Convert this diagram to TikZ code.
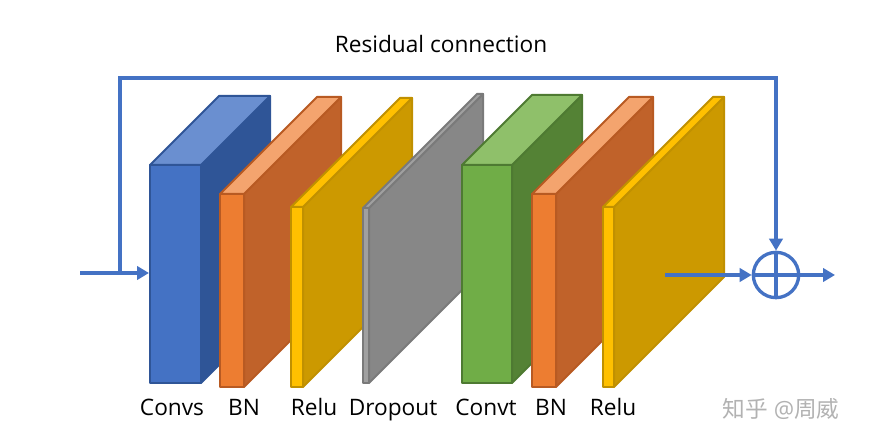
\documentclass[tikz,border=0pt]{standalone}
\usepackage{fontspec}
\setmainfont{Open Sans}
\newfontfamily\cjk{Noto Sans CJK SC}
\usetikzlibrary{arrows.meta}
\definecolor{lnb}{HTML}{4472C4}
\definecolor{bS}{HTML}{2F5597}\definecolor{bT}{HTML}{6A8FD0}
\definecolor{oF}{HTML}{ED7D31}\definecolor{oS}{HTML}{C0622A}\definecolor{oT}{HTML}{F4A46E}\definecolor{oE}{HTML}{B85A22}
\definecolor{yF}{HTML}{FFC000}\definecolor{yS}{HTML}{CC9900}\definecolor{yE}{HTML}{C09000}
\definecolor{gF}{HTML}{A0A0A0}\definecolor{gS}{HTML}{878787}\definecolor{gE}{HTML}{7A7A7A}
\definecolor{nF}{HTML}{70AD47}\definecolor{nS}{HTML}{548235}\definecolor{nT}{HTML}{8FC06A}\definecolor{nE}{HTML}{4E7A32}
\newcommand{\blk}[9]{%
 \path[fill=#7,draw=#9,line width=1.5pt,line join=round] (#2,#3)--(#2+#5,#3-#5)--(#2+#5,#4-#5)--(#2,#4)--cycle;
 \path[fill=#8,draw=#9,line width=1.5pt,line join=round] (#1,#3)--(#1+#5,#3-#5)--(#2+#5,#3-#5)--(#2,#3)--cycle;
 \path[fill=#6,draw=#9,line width=1.5pt,line join=round] (#1,#3) rectangle (#2,#4);}
\tikzset{lbl/.style={font=\fontsize{17}{20}\selectfont,anchor=base},
 conn/.style={draw=lnb,line width=3pt},
 arr/.style={conn,-{Triangle[length=9pt,width=10pt]}}}
\begin{document}
\begin{tikzpicture}[x=0.75pt,y=-0.75pt]
\useasboundingbox (0,0) rectangle (874,448);
\blk{150}{201}{165}{383}{69}{lnb}{bS}{bT}{bS}
\blk{220}{244}{194}{387}{97}{oF}{oS}{oT}{oE}
\blk{291}{303}{207}{387}{109}{yF}{yS}{yF}{yE}
\blk{363}{369}{208}{383}{114}{gF}{gS}{gF}{gE}
\blk{462}{512}{165}{383}{70}{nF}{nS}{nT}{nE}
\blk{532}{556}{194}{387}{97}{oF}{oS}{oT}{oE}
\blk{603}{614}{207}{387}{110}{yF}{yS}{yF}{yE}
\node[lbl] (t) at (441,53) {Residual connection};
\node[lbl] (l1) at (172,416) {Convs};
\node[lbl] (l2) at (244,416) {BN};
\node[lbl] (l3) at (314,416) {Relu};
\node[lbl] (l4) at (393,416) {Dropout};
\node[lbl] (l5) at (486,416) {Convt};
\node[lbl] (l6) at (551,416) {BN};
\node[lbl] (l7) at (613,416) {Relu};
\node[lbl,text=black!30] (wm) at (781,418) {{\cjk 知乎} @{\cjk 周威}};
\node[circle,draw=lnb,line width=2.5pt,minimum size=34pt,inner sep=0pt] (sum) at (776,275) {};
\draw[draw=lnb,line width=2.5pt] (sum.north)--(sum.south) (sum.west)--(sum.east);
\coordinate (in) at (80,273);
\coordinate (cv) at (149,273);
\coordinate (j) at (120,273);
\coordinate (o1) at (665,275);
\coordinate (out) at (835,275);
\draw[arr] (in)--(cv);
\draw[arr,line join=miter] (j)--(120,78)--(776,78)--(sum.north);
\draw[arr] (o1)--(sum.west);
\draw[arr] (sum.east)--(out);
\end{tikzpicture}
\end{document}
